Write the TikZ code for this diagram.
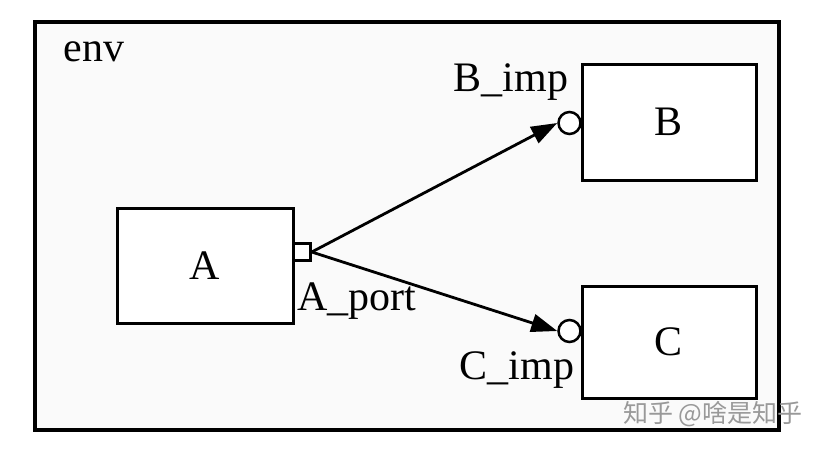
\documentclass[tikz,border=0pt]{standalone}
\usepackage{fontspec}
\setmainfont{Liberation Serif}
\newfontfamily\cjk{Noto Sans CJK SC}
\usetikzlibrary{arrows.meta}
\begin{document}
\begin{tikzpicture}[x=1pt,y=-1pt,
  box/.style={draw,line width=3pt,fill=white,inner sep=0},
  lbl/.style={font=\fontsize{42}{42}\selectfont},
  conn/.style={line width=2.8pt,-{Triangle[length=26pt,width=18pt]}}]
\useasboundingbox[fill=white] (0,0) rectangle (823,451);
\draw[line width=3.5pt,fill=black!2] (35,22) rectangle (779,430);
\node[lbl,anchor=west] (env) at (60,52) {env};
\node[box,minimum width=176pt,minimum height=115pt,lbl] (A) at (205,265.5) {A};
\node[box,minimum width=174pt,minimum height=116pt,lbl] (B) at (669,122) {B};
\node[box,minimum width=174pt,minimum height=112pt,lbl] (C) at (669,342) {C};
\node[draw,line width=2.5pt,fill=white,minimum size=17pt,inner sep=0] (p) at (302,252) {};
\node[draw,circle,line width=2.5pt,fill=white,minimum size=22pt,inner sep=0] (bi) at (569.5,123) {};
\node[draw,circle,line width=2.5pt,fill=white,minimum size=22pt,inner sep=0] (ci) at (569.5,331) {};
\draw[conn] (p.east) -- (bi.west);
\draw[conn] (p.east) -- (ci.west);
\node[lbl] (bl) at (511,82) {B\_imp};
\node[lbl] (al) at (357,301) {A\_port};
\node[lbl] (cl) at (517,370) {C\_imp};
\node[text=black!40,font=\cjk\fontsize{25}{25}\selectfont] (wm) at (713,414) {知乎 @啥是知乎};
\end{tikzpicture}
\end{document}
